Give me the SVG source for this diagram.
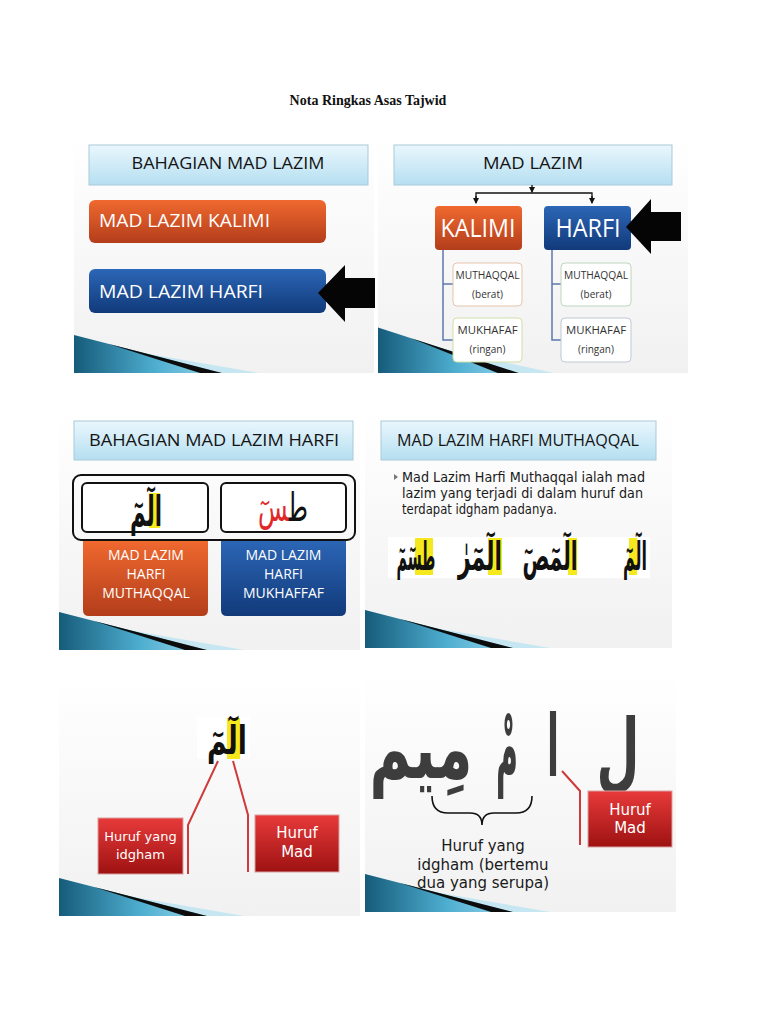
<svg xmlns="http://www.w3.org/2000/svg" xmlns:xlink="http://www.w3.org/1999/xlink" width="768" height="1024" viewBox="0 0 768 1024">
<style>
.page{font-family:"Liberation Serif",serif;font-weight:bold;font-size:14px;fill:#111}
.ttl{font-family:"Open Sans","DejaVu Sans",sans-serif;font-size:17px;fill:#141414;text-anchor:middle}
.wt{font-family:"Open Sans","DejaVu Sans",sans-serif;fill:#fff}
.sm{font-family:"Open Sans","DejaVu Sans",sans-serif;font-size:10px;fill:#333;text-anchor:middle}
.body{font-family:"DejaVu Sans","Open Sans",sans-serif;fill:#1a1a1a}
.ar{font-family:"DejaVu Sans","Noto Sans",sans-serif;direction:rtl}
.hl{fill:#f5e81c}
.tbox{fill:url(#gTitle);stroke:#a9c9d8;stroke-width:1}
.obox{fill:url(#gOrange)}
.bbox{fill:url(#gBlue)}
.rbox{fill:url(#gRed);stroke:#d9a0a0;stroke-width:1}
.tree{stroke:#5b78ad;stroke-width:1.5;fill:none}
.redl{stroke:#cf3a3a;stroke-width:2;fill:none}
.slide{fill:url(#gSlide)}
</style>
<defs>
<linearGradient id="gSlide" x1="0" y1="0" x2="0" y2="1"><stop offset="0" stop-color="#ffffff"/><stop offset="1" stop-color="#f1f1f1"/></linearGradient>
<linearGradient id="gTitle" x1="0" y1="0" x2="0" y2="1"><stop offset="0" stop-color="#eaf7fd"/><stop offset="1" stop-color="#b5dff1"/></linearGradient>
<linearGradient id="gOrange" x1="0" y1="0" x2="0" y2="1"><stop offset="0" stop-color="#f0692f"/><stop offset="1" stop-color="#b33d1b"/></linearGradient>
<linearGradient id="gBlue" x1="0" y1="0" x2="0" y2="1"><stop offset="0" stop-color="#2c66b6"/><stop offset="1" stop-color="#113a7a"/></linearGradient>
<linearGradient id="gRed" x1="0" y1="0" x2="0" y2="1"><stop offset="0" stop-color="#e83a3a"/><stop offset="1" stop-color="#9e1212"/></linearGradient>
<linearGradient id="gWedge" x1="0" y1="0" x2="1" y2="0"><stop offset="0" stop-color="#165b7a"/><stop offset="0.55" stop-color="#4eaed0"/><stop offset="1" stop-color="#9ad6ea"/></linearGradient>
<marker id="ah" viewBox="0 0 6 6" refX="5" refY="3" markerWidth="5" markerHeight="5" orient="auto"><path d="M0,0 L6,3 L0,6 z" fill="#111"/></marker>
<g id="wedge">
<polygon points="0,-32 185,0 0,0" fill="#c6e7f2"/>
<polygon points="0,-38 148,0 0,0" fill="url(#gWedge)"/>
<polygon points="35,-29 148,0 126,0" fill="#0c0c0c"/>
</g>
</defs>

<text class="page" x="368" y="105" text-anchor="middle">Nota Ringkas Asas Tajwid</text>

<!-- Slide 1 -->
<g id="slide1">
<rect class="slide" x="74" y="136" width="300" height="237"/>
<use xlink:href="#wedge" transform="translate(74,373)"/>
<g id="s1-title"><rect class="tbox" x="89" y="145" width="279" height="40"/><text class="ttl" x="228" y="169" textLength="193" lengthAdjust="spacingAndGlyphs">BAHAGIAN MAD LAZIM</text></g>
<g id="s1-kalimi"><rect class="obox" x="89" y="200" width="237" height="43" rx="6"/><text class="wt" x="99" y="227" font-size="18" textLength="171" lengthAdjust="spacingAndGlyphs">MAD LAZIM KALIMI</text></g>
<g id="s1-harfi"><rect class="bbox" x="89" y="269" width="237" height="44" rx="6"/><text class="wt" x="99" y="298" font-size="18" textLength="164" lengthAdjust="spacingAndGlyphs">MAD LAZIM HARFI</text></g>
<polygon id="s1-arrow" points="318,293 345,265 345,278 375,278 375,308 345,308 345,322" fill="#050505"/>
</g>

<!-- Slide 2 -->
<g id="slide2">
<rect class="slide" x="378" y="136" width="310" height="237"/>
<use xlink:href="#wedge" transform="translate(378,373) scale(0.95,1.2)"/>
<g id="s2-title"><rect class="tbox" x="394" y="145" width="278" height="40"/><text class="ttl" x="533" y="169" textLength="100" lengthAdjust="spacingAndGlyphs">MAD LAZIM</text></g>
<g id="s2-connectors" stroke="#111" stroke-width="1.3" fill="none">
<line x1="532" y1="185" x2="532" y2="192" marker-end="url(#ah)"/>
<polyline points="476,201 476,193 592,193 592,201"/>
<line x1="476" y1="196" x2="476" y2="203" marker-end="url(#ah)"/>
<line x1="592" y1="196" x2="592" y2="203" marker-end="url(#ah)"/>
</g>
<g id="s2-tree">
<polyline class="tree" points="443,250 443,340 453,340"/>
<line class="tree" x1="443" y1="284" x2="453" y2="284"/>
<polyline class="tree" points="552,250 552,340 561,340"/>
<line class="tree" x1="552" y1="284" x2="561" y2="284"/>
</g>
<g id="s2-kalimi"><rect class="obox" x="435" y="206" width="87" height="44" rx="4"/><text class="wt" x="478" y="237" font-size="25" text-anchor="middle" textLength="75" lengthAdjust="spacingAndGlyphs">KALIMI</text></g>
<g id="s2-harfi"><rect class="bbox" x="544" y="206" width="87" height="44" rx="4"/><text class="wt" x="588" y="237" font-size="25" text-anchor="middle" textLength="65" lengthAdjust="spacingAndGlyphs">HARFI</text></g>
<g id="s2-k1"><rect x="453" y="263" width="69" height="43" rx="4" fill="#fff" stroke="#e7c3ad"/><text class="sm" x="487.5" y="279" textLength="64" lengthAdjust="spacingAndGlyphs">MUTHAQQAL</text><text class="sm" x="487.5" y="298">(berat)</text></g>
<g id="s2-k2"><rect x="453" y="318" width="69" height="44" rx="4" fill="#fff" stroke="#cfe0a8"/><text class="sm" x="487.5" y="334" textLength="60" lengthAdjust="spacingAndGlyphs">MUKHAFAF</text><text class="sm" x="487.5" y="353">(ringan)</text></g>
<g id="s2-h1"><rect x="561" y="263" width="70" height="43" rx="4" fill="#fff" stroke="#c0d6c0"/><text class="sm" x="596" y="279" textLength="64" lengthAdjust="spacingAndGlyphs">MUTHAQQAL</text><text class="sm" x="596" y="298">(berat)</text></g>
<g id="s2-h2"><rect x="561" y="318" width="70" height="44" rx="4" fill="#fff" stroke="#bfc9d6"/><text class="sm" x="596" y="334" textLength="60" lengthAdjust="spacingAndGlyphs">MUKHAFAF</text><text class="sm" x="596" y="353">(ringan)</text></g>
<polygon id="s2-arrow" points="626,227 651,199 651,212 681,212 681,241 651,241 651,254" fill="#050505"/>
</g>

<!-- Slide 3 -->
<g id="slide3">
<rect class="slide" x="59" y="411" width="301" height="239"/>
<use xlink:href="#wedge" transform="translate(59,650)"/>
<g id="s3-title"><rect class="tbox" x="74" y="421" width="279" height="39"/><text class="ttl" x="214" y="446" textLength="250" lengthAdjust="spacingAndGlyphs">BAHAGIAN MAD LAZIM HARFI</text></g>
<g id="s3-muthaqqal"><path class="obox" d="M83,540 H208 V610 Q208,616 202,616 H89 Q83,616 83,610 Z"/>
<text class="wt" font-size="14" text-anchor="middle"><tspan x="146" y="560">MAD LAZIM</tspan><tspan x="146" y="579">HARFI</tspan><tspan x="146" y="598">MUTHAQQAL</tspan></text></g>
<g id="s3-mukhaffaf"><path class="bbox" d="M221,540 H346 V610 Q346,616 340,616 H227 Q221,616 221,610 Z"/>
<text class="wt" font-size="14" text-anchor="middle"><tspan x="283.5" y="560">MAD LAZIM</tspan><tspan x="283.5" y="579">HARFI</tspan><tspan x="283.5" y="598">MUKHAFFAF</tspan></text></g>
<rect x="73" y="475" width="282" height="65" rx="8" fill="none" stroke="#111" stroke-width="2"/>
<g id="s3-alm"><rect x="82" y="483" width="126" height="49" rx="5" fill="#fff" stroke="#111" stroke-width="2"/><rect class="hl" x="149" y="493" width="11" height="35"/><text class="ar" x="146" y="526" font-size="42" text-anchor="middle" fill="#111" font-weight="bold" textLength="32" lengthAdjust="spacingAndGlyphs">الٓمٓ</text></g>
<g id="s3-tasin"><rect x="221" y="483" width="125" height="49" rx="5" fill="#fff" stroke="#111" stroke-width="2"/><text class="ar" x="283" y="521" font-size="40" text-anchor="middle" fill="#111" textLength="50" lengthAdjust="spacingAndGlyphs"><tspan>ط</tspan><tspan fill="#e02828">سٓ</tspan></text></g>
</g>

<!-- Slide 4 -->
<g id="slide4">
<rect class="slide" x="365" y="411" width="307" height="237"/>
<use xlink:href="#wedge" transform="translate(365,648)"/>
<g id="s4-title"><rect class="tbox" x="381" y="421" width="275" height="39"/><text class="ttl" x="518" y="446" textLength="242" lengthAdjust="spacingAndGlyphs">MAD LAZIM HARFI MUTHAQQAL</text></g>
<polygon points="394,474 398,477 394,480" fill="#777"/>
<text class="body" font-size="14">
<tspan x="402" y="482" textLength="243" lengthAdjust="spacingAndGlyphs">Mad Lazim Harfi Muthaqqal ialah mad</tspan>
<tspan x="402" y="498" textLength="241" lengthAdjust="spacingAndGlyphs">lazim yang terjadi di dalam huruf dan</tspan>
<tspan x="402" y="514" textLength="155" lengthAdjust="spacingAndGlyphs">terdapat idgham padanya.</tspan>
</text>
<g id="s4-words">
<rect x="388" y="537" width="262" height="41" fill="#fff"/>
<rect class="hl" x="629" y="538" width="8" height="37"/>
<rect class="hl" x="568" y="538" width="9" height="37"/>
<rect class="hl" x="488" y="538" width="14" height="37"/>
<rect class="hl" x="415" y="538" width="18" height="37"/>
<g font-size="40" font-weight="bold" fill="#111">
<text class="ar" x="635" y="570" text-anchor="middle" textLength="24" lengthAdjust="spacingAndGlyphs">الٓمٓ</text>
<text class="ar" x="550" y="570" text-anchor="middle" textLength="55" lengthAdjust="spacingAndGlyphs">الٓمٓصٓ</text>
<text class="ar" x="480" y="570" text-anchor="middle" textLength="44" lengthAdjust="spacingAndGlyphs">الٓمٓرٰ</text>
<text class="ar" x="416" y="570" text-anchor="middle" textLength="39" lengthAdjust="spacingAndGlyphs">طسٓمٓ</text>
</g>
</g>
</g>

<!-- Slide 5 -->
<g id="slide5">
<rect class="slide" x="59" y="677" width="301" height="239"/>
<use xlink:href="#wedge" transform="translate(59,916)"/>
<g id="s5-alm"><rect x="197" y="717" width="53" height="42" fill="#fff"/><rect class="hl" x="227" y="718" width="13" height="41"/><text class="ar" x="227" y="754" font-size="40" font-weight="bold" text-anchor="middle" fill="#111" textLength="40" lengthAdjust="spacingAndGlyphs">الٓمٓ</text></g>
<g id="s5-lines">
<polyline class="redl" points="218,761 188,825 188,874"/>
<polyline class="redl" points="233,761 248,815 248,872"/>
</g>
<g id="s5-idgham"><rect class="rbox" x="98" y="818" width="85" height="56"/><text class="body" font-size="13" text-anchor="middle" style="fill:#fff"><tspan x="140.5" y="841">Huruf yang</tspan><tspan x="140.5" y="859">idgham</tspan></text></g>
<g id="s5-mad"><rect class="rbox" x="255" y="815" width="84" height="57"/><text class="body" font-size="15" text-anchor="middle" style="fill:#fff"><tspan x="297" y="838">Huruf</tspan><tspan x="297" y="857">Mad</tspan></text></g>
</g>

<!-- Slide 6 -->
<g id="slide6">
<rect class="slide" x="365" y="672" width="311" height="240"/>
<use xlink:href="#wedge" transform="translate(365,912)"/>
<g id="s6-letters" fill="#3d3d3d" font-size="86" font-weight="bold">
<text class="ar" x="618" y="780" text-anchor="middle" textLength="43" lengthAdjust="spacingAndGlyphs">ل</text>
<text class="ar" x="553" y="776" text-anchor="middle" textLength="12" lengthAdjust="spacingAndGlyphs">ا</text>
<text class="ar" x="507" y="778" text-anchor="middle" textLength="22" lengthAdjust="spacingAndGlyphs">مْ</text>
<text class="ar" x="421" y="778" text-anchor="middle" textLength="103" lengthAdjust="spacingAndGlyphs">مِيم</text>
</g>
<path id="s6-brace" d="M432,796 Q432,813 448,813 H470 Q482,813 482,825 Q482,813 494,813 H516 Q532,813 532,796" fill="none" stroke="#111" stroke-width="1.6"/>
<text class="body" font-size="15" text-anchor="middle" fill="#222"><tspan x="483" y="851">Huruf yang</tspan><tspan x="483" y="870">idgham (bertemu</tspan><tspan x="483" y="888">dua yang serupa)</tspan></text>
<polyline class="redl" points="562,771 580,791 580,845"/>
<g id="s6-mad"><rect class="rbox" x="588" y="791" width="84" height="56"/><text class="body" font-size="15" text-anchor="middle" style="fill:#fff"><tspan x="630" y="815">Huruf</tspan><tspan x="630" y="833">Mad</tspan></text></g>
</g>
</svg>
